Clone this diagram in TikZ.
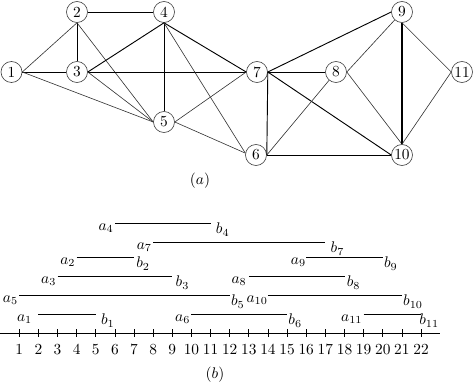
\documentclass[tikz,border=0pt]{standalone}
\usepackage{tikz}
\begin{document}
\begin{tikzpicture}[x=0.65pt,y=-0.65pt,
  vtx/.style={circle,draw=black!75,line width=0.4pt,minimum size=21*0.65pt,inner sep=0pt,font=\fontsize{10}{12}\selectfont},
  thk/.style={line width=0.6pt},
  thn/.style={line width=0.4pt,black!80},
  ival/.style={line width=0.65pt},
  alab/.style={anchor=base east,inner sep=0pt},
  blab/.style={anchor=base west,inner sep=0pt},
  tick/.style={line width=0.5pt}]
\useasboundingbox (0,0) rectangle (474,383);
% ---------------- (a) graph ----------------
\node[vtx] (n1) at (11.5,72) {1};
\node[vtx] (n2) at (77,12) {2};
\node[vtx] (n3) at (77,72) {3};
\node[vtx] (n4) at (164,12) {4};
\node[vtx] (n5) at (164,122) {5};
\node[vtx] (n6) at (256,155) {6};
\node[vtx] (n7) at (257,72) {7};
\node[vtx] (n8) at (336,72) {8};
\node[vtx] (n9) at (402,12) {9};
\node[vtx] (n10) at (402,155) {10};
\node[vtx] (n11) at (462,72) {11};
\draw[thn] (n1.east) -- (n2.south);
\draw[thk] (n1.east) -- (n3.west);
\draw[thn] (n1.east) -- (n5.west);
\draw[thk] (n2.east) -- (n4.west);
\draw[thk] (n2.south) -- (n3.north);
\draw[thn] (n2.south) -- (n5.west);
\draw[thk] (n3.east) -- (n4.south);
\draw[thk] (n3.east) -- (n7.west);
\draw[thn] (n3.east) -- (n5.west);
\draw[thk] (n4.south) -- (n5.north);
\draw[thk] (n4.south) -- (n7.west);
\draw[thn] (n4.south) -- (n6.170);
\draw[thn] (n5.east) -- (n7.west);
\draw[thn] (n5.east) -- (n6.170);
\draw[thk] (n7.east) -- (n9.west);
\draw[thk] (n7.east) -- (n8.west);
\draw[thk] (n7.east) -- (n10.west);
\draw[thk] (n7.east) -- (n6.east);
\draw[thn] (n8.east) -- (n9);
\draw[thn] (n8.east) -- (n10.north);
\draw[thn] (n6.east) -- (n8);
\draw[line width=0.9pt] (n9.south) -- (n10.north);
\draw[thn] (n9.south) -- (n11.west);
\draw[thn] (n10.north) -- (n11.west);
\draw[thk] (n6.east) -- (n10.west);
\node (capa) at (200,181) {$(a)$};
% ---------------- (b) intervals ----------------
\coordinate (axl) at (0,333);
\coordinate (axr) at (440,333);
\draw[line width=0.5pt] (axl) -- (axr);
\foreach \i in {1,...,22}{
  \pgfmathsetmacro{\xx}{19.3+(\i-1)*19.13}
  \draw[tick] (\xx,329) -- (\xx,337);
  \node[anchor=base,inner sep=0pt] (t\i) at (\xx,354) {\i};
}
% intervals: index/start/end/y
\foreach \k/\s/\e/\y/\ga/\gb in {1/2/5/314/6/5, 6/10/15/314/1/1, 11/19/22/314/1/-2,
  5/1/12/295/1/1, 10/14/21/295/0/1,
  3/3/9/276/1/3, 8/13/18/276/2/2,
  2/4/7/257/1/2, 9/16/20/257/0/1,
  7/8/17/242/1/5,
  4/6/11/223/1/5}{
  \pgfmathsetmacro{\xs}{19.3+(\s-1)*19.13}
  \pgfmathsetmacro{\xe}{19.3+(\e-1)*19.13}
  \coordinate (s\k) at (\xs,\y);
  \coordinate (e\k) at (\xe,\y);
  \draw[ival] (s\k) -- (e\k);
  \node[alab] (a\k) at (\xs-\ga,\y+7.6) {$a_{\k}$};
  \node[blab] (b\k) at (\xe+\gb,\y+10.7) {$b_{\k}$};
}
\node (capb) at (215,375) {$(b)$};
\end{tikzpicture}
\end{document}
